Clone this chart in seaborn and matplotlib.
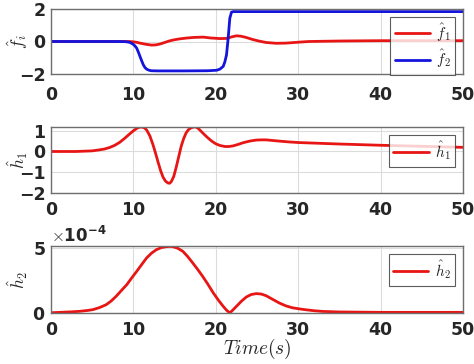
import numpy as np
import pandas as pd
import matplotlib
matplotlib.use("Agg")
import matplotlib.pyplot as plt
import seaborn as sns
from matplotlib.ticker import ScalarFormatter

# ---- data ----
t_f1 = [0, 5, 8, 9.5, 10, 10.4, 10.8, 11.5, 12.2, 12.7, 13.2, 13.8, 14.4, 15.0, 15.6, 16.4, 17.3, 18.5, 19.3, 20.5, 21.3, 21.9, 22.5, 23.0, 23.6, 24.5, 25.3, 26.1, 27.3, 28.5, 30.1, 31.3, 35, 40, 45, 50]
f1 = [0, 0, 0, 0, -0.02, -0.05, -0.1, -0.17, -0.22, -0.21, -0.16, -0.06, 0.04, 0.11, 0.16, 0.21, 0.25, 0.27, 0.22, 0.18, 0.19, 0.28, 0.35, 0.33, 0.26, 0.12, 0.02, -0.06, -0.11, -0.1, -0.04, 0.0, 0.03, 0.05, 0.05, 0.05]

t_f2 = [0, 5, 8, 9, 9.3, 9.6, 10, 10.2, 10.4, 10.6, 10.8, 11.0, 11.2, 11.4, 11.6, 11.9, 12.2, 13, 16, 19, 20.1, 20.5, 20.9, 21.1, 21.3, 21.5, 21.7, 21.9, 22.1, 25, 30, 40, 50]
f2 = [0, 0, 0, -0.01, -0.03, -0.06, -0.18, -0.28, -0.41, -0.65, -0.92, -1.18, -1.43, -1.6, -1.70, -1.77, -1.80, -1.81, -1.81, -1.80, -1.77, -1.7, -1.53, -1.25, -0.82, 0.2, 1.43, 1.8, 1.84, 1.84, 1.84, 1.84, 1.84]

t_h1 = [0, 3, 5, 5.9, 6.5, 7.1, 7.7, 8.3, 8.9, 9.5, 10.0, 10.4, 10.7, 11.0, 11.3, 11.6, 12.0, 12.4, 12.7, 13.0, 13.3, 13.6, 13.9, 14.2, 14.4, 14.6, 14.9, 15.2, 15.5, 15.8, 16.1, 16.4, 16.7, 17.0, 17.3, 17.6, 17.9, 18.2, 18.6, 19.0, 19.5, 20.0, 20.5, 21.1, 21.6, 22.1, 22.7, 23.3, 24.1, 24.9, 25.5, 26.1, 26.9, 27.7, 28.9, 30.1, 35, 40, 45, 50]
h1 = [0, 0.0, 0.03, 0.08, 0.12, 0.19, 0.29, 0.43, 0.62, 0.83, 1.0, 1.11, 1.17, 1.18, 1.15, 1.04, 0.75, 0.3, -0.1, -0.52, -0.92, -1.24, -1.43, -1.52, -1.53, -1.45, -1.2, -0.75, -0.25, 0.25, 0.62, 0.9, 1.06, 1.14, 1.18, 1.18, 1.1, 0.98, 0.82, 0.67, 0.5, 0.37, 0.29, 0.24, 0.24, 0.27, 0.34, 0.42, 0.5, 0.55, 0.56, 0.56, 0.53, 0.5, 0.46, 0.43, 0.36, 0.3, 0.25, 0.2]

t_h2 = [0, 1.1, 2.5, 3.5, 4.5, 5.1, 5.9, 6.7, 7.3, 7.9, 8.5, 9.2, 9.8, 10.4, 11.0, 11.6, 12.2, 12.8, 13.4, 14.0, 14.4, 14.8, 15.4, 16.0, 16.6, 17.2, 17.8, 18.4, 19.0, 19.7, 20.3, 20.9, 21.3, 21.7, 22.1, 22.5, 23.1, 23.7, 24.3, 24.9, 25.5, 26.1, 26.9, 27.7, 28.5, 29.3, 30.1, 30.9, 32, 33, 35, 40, 50]
h2 = [0.02e-4, 0.05e-4, 0.09e-4, 0.13e-4, 0.2e-4, 0.26e-4, 0.42e-4, 0.64e-4, 0.92e-4, 1.28e-4, 1.7e-4, 2.18e-4, 2.7e-4, 3.2e-4, 3.72e-4, 4.23e-4, 4.6e-4, 4.87e-4, 5.03e-4, 5.1e-4, 5.12e-4, 5.1e-4, 4.97e-4, 4.74e-4, 4.33e-4, 3.85e-4, 3.35e-4, 2.82e-4, 2.25e-4, 1.54e-4, 1.0e-4, 0.51e-4, 0.22e-4, 0.0, 0.25e-4, 0.51e-4, 0.9e-4, 1.23e-4, 1.42e-4, 1.49e-4, 1.46e-4, 1.33e-4, 1.05e-4, 0.77e-4, 0.55e-4, 0.4e-4, 0.32e-4, 0.25e-4, 0.17e-4, 0.12e-4, 0.08e-4, 0.05e-4, 0.05e-4]

xticks = [0, 10, 20, 30, 40, 50]

sns.set_style("white")
plt.rcParams["font.family"] = ["DejaVu Sans"]
plt.rcParams["mathtext.fontset"] = "cm"

RED = "#e81515"
BLUE = "#1414dc"
SPINE = "#6e6e6e"

W, H = 474, 364
fig = plt.figure(figsize=(W / 100, H / 100), dpi=100)

def add_ax(top, bottom, left=51, right=463):
    return fig.add_axes([left / W, 1 - bottom / H, (right - left) / W, (bottom - top) / H])

ax1 = add_ax(9, 74)
ax2 = add_ax(127, 193)
ax3 = add_ax(246, 313)

df1 = pd.DataFrame({"t": t_f1, "v": f1})
df2 = pd.DataFrame({"t": t_f2, "v": f2})
dh1 = pd.DataFrame({"t": t_h1, "v": h1})
dh2 = pd.DataFrame({"t": t_h2, "v": h2})

sns.lineplot(data=df1, x="t", y="v", ax=ax1, color=RED, lw=2, label=r"$\hat{f}_1$", sort=False)
sns.lineplot(data=df2, x="t", y="v", ax=ax1, color=BLUE, lw=2, label=r"$\hat{f}_2$", sort=False)
sns.lineplot(data=dh1, x="t", y="v", ax=ax2, color=RED, lw=2, label=r"$\hat{h}_1$", sort=False)
sns.lineplot(data=dh2, x="t", y="v", ax=ax3, color=RED, lw=2, label=r"$\hat{h}_2$", sort=False)

ax1.set_ylim(-2, 2)
ax1.set_yticks([-2, 0, 2])
ax2.set_ylim(-2, 1.18)
ax2.set_yticks([-2, -1, 0, 1])
ax3.set_ylim(0, 5.15e-4)
ax3.set_yticks([0, 5e-4])
fmt = ScalarFormatter(useMathText=True)
fmt.set_powerlimits((-3, 3))
ax3.yaxis.set_major_formatter(fmt)

ylabels = [r"$\hat{f}_i$", r"$\hat{h}_1$", r"$\hat{h}_2$"]
for ax, yl in zip([ax1, ax2, ax3], ylabels):
    ax.set_xlim(0, 50)
    ax.set_xticks(xticks)
    ax.grid(True, color="#dcdcdc", lw=0.8)
    ax.set_axisbelow(True)
    for s in ax.spines.values():
        s.set_color(SPINE)
        s.set_linewidth(1.0)
        s.set_visible(True)
    ax.tick_params(direction="in", length=3, color=SPINE, labelsize=12.5, pad=4)
    ax.tick_params(axis="x", pad=6)
    for lab in ax.get_xticklabels() + ax.get_yticklabels():
        lab.set_fontweight("bold")
    ax.set_ylabel(yl, fontsize=12.5)
    ax.yaxis.set_label_coords(-0.05, 0.5)
    ax.set_xlabel("")
    leg = ax.legend(loc="upper right", fontsize=11, frameon=True, fancybox=False,
                    handlelength=2.3, handletextpad=0.4, borderaxespad=0.5, borderpad=0.3,
                    labelspacing=0.3)
    leg.get_frame().set_edgecolor("#333333")
    leg.get_frame().set_linewidth(0.8)

ax1.tick_params(axis="x", pad=9)

off = ax3.yaxis.get_offset_text()
off.set_fontsize(12)
off.set_fontweight("bold")

ax3.set_xlabel(r"$Time(s)$", fontsize=14, labelpad=-2)

fig.savefig("out.png", dpi=100)
